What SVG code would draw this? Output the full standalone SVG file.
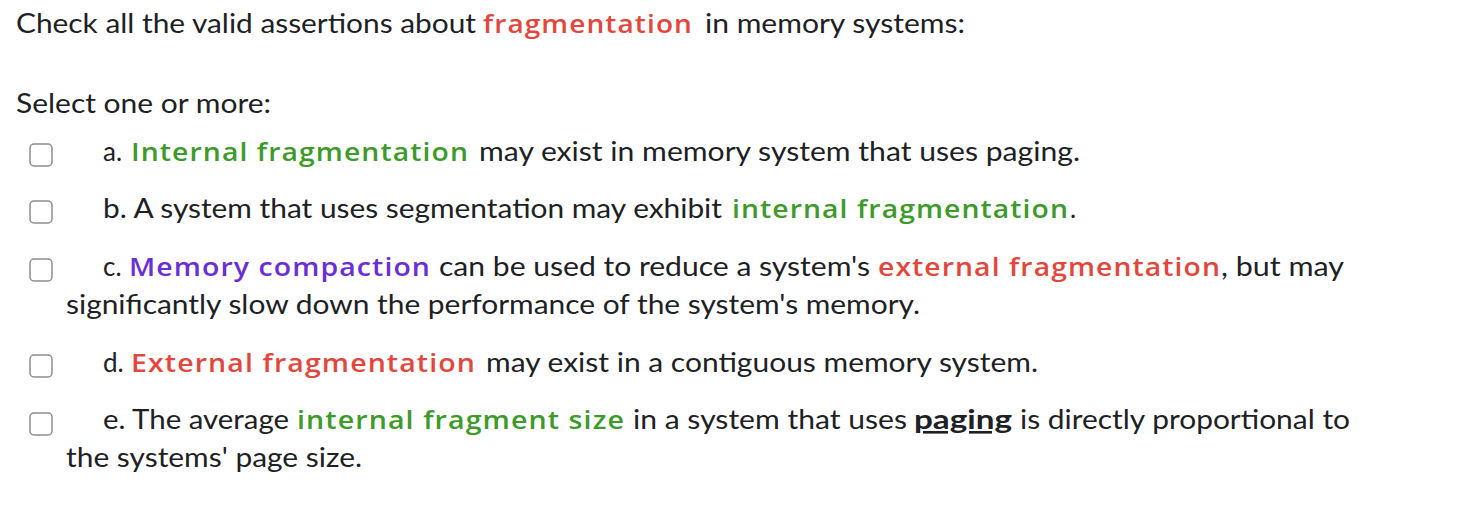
<svg xmlns="http://www.w3.org/2000/svg" width="1458" height="512" viewBox="0 0 1458 512">
<style>
text{font-family:Lato,"Open Sans",sans-serif;font-size:26px;fill:#1d2125}
.r{fill:#e2473d;font-family:"Open Sans",sans-serif;font-weight:600;letter-spacing:1px}
.g{fill:#3d9a2b;font-family:"Open Sans",sans-serif;font-weight:600;letter-spacing:1px}
.p{fill:#6a2ed6;font-family:"Open Sans",sans-serif;font-weight:600;letter-spacing:1px}
.cb{fill:#fff;stroke:#8a8d90;stroke-width:1.5}
</style>
<rect width="1458" height="512" fill="#fff"/>
<text x="16" y="33" textLength="460" lengthAdjust="spacingAndGlyphs">Check all the valid assertions about</text>
<text class="r" x="483" y="33" textLength="210" lengthAdjust="spacingAndGlyphs">fragmentation</text>
<text x="705" y="33" textLength="260" lengthAdjust="spacingAndGlyphs">in memory systems:</text>
<text x="16" y="113" textLength="255" lengthAdjust="spacingAndGlyphs">Select one or more:</text>
<g id="boxes">
<rect class="cb" x="30" y="144" width="22" height="22" rx="4"/>
<rect class="cb" x="30" y="201" width="22" height="22" rx="4"/>
<rect class="cb" x="30" y="259" width="22" height="22" rx="4"/>
<rect class="cb" x="30" y="355" width="22" height="22" rx="4"/>
<rect class="cb" x="30" y="413" width="22" height="22" rx="4"/>
</g>
<text x="103" y="161">a.</text>
<text class="g" x="131" y="161" textLength="338" lengthAdjust="spacingAndGlyphs">Internal fragmentation</text>
<text x="479" y="161" textLength="601" lengthAdjust="spacingAndGlyphs">may exist in memory system that uses paging.</text>
<text x="103" y="218" textLength="619" lengthAdjust="spacingAndGlyphs">b. A system that uses segmentation may exhibit</text>
<text class="g" x="732" y="218" textLength="337" lengthAdjust="spacingAndGlyphs">internal fragmentation</text>
<text x="1070" y="218">.</text>
<text x="103" y="276">c.</text>
<text class="p" x="129" y="276" textLength="302" lengthAdjust="spacingAndGlyphs">Memory compaction</text>
<text x="439" y="276" textLength="431" lengthAdjust="spacingAndGlyphs">can be used to reduce a system's</text>
<text class="r" x="878" y="276" textLength="343" lengthAdjust="spacingAndGlyphs">external fragmentation</text>
<text x="1221" y="276" textLength="123" lengthAdjust="spacingAndGlyphs">, but may</text>
<text x="66" y="314" textLength="854" lengthAdjust="spacingAndGlyphs">significantly slow down the performance of the system's memory.</text>
<text x="103" y="372">d.</text>
<text class="r" x="131" y="372" textLength="345" lengthAdjust="spacingAndGlyphs">External fragmentation</text>
<text x="486" y="372" textLength="552" lengthAdjust="spacingAndGlyphs">may exist in a contiguous memory system.</text>
<text x="103" y="429" textLength="186" lengthAdjust="spacingAndGlyphs">e. The average</text>
<text class="g" x="297" y="429" textLength="328" lengthAdjust="spacingAndGlyphs">internal fragment size</text>
<text x="633" y="429" textLength="274" lengthAdjust="spacingAndGlyphs">in a system that uses</text>
<text x="914" y="429" font-weight="bold" text-decoration="underline" textLength="98" lengthAdjust="spacingAndGlyphs">paging</text>
<text x="1020" y="429" textLength="330" lengthAdjust="spacingAndGlyphs">is directly proportional to</text>
<text x="66" y="467" textLength="296" lengthAdjust="spacingAndGlyphs">the systems' page size.</text>
</svg>
